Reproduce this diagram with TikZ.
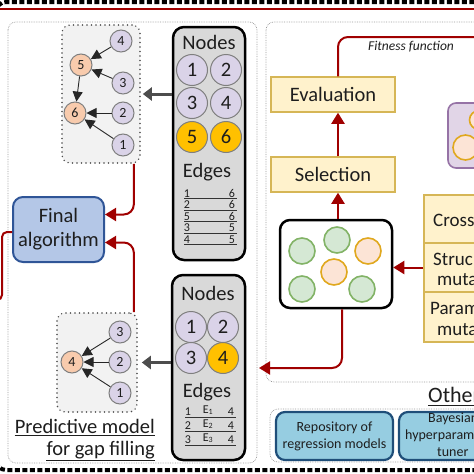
\documentclass[tikz,border=0pt]{standalone}
\usepackage{fontspec}
\setmainfont{Carlito}
\usetikzlibrary{arrows.meta,calc}
\definecolor{txt}{HTML}{1E1E1E}
\definecolor{dred}{HTML}{A00000}
\definecolor{lav}{HTML}{DAD3E8}
\definecolor{cborder}{HTML}{7F7F7F}
\definecolor{yel}{HTML}{FFC000}
\definecolor{peach}{HTML}{F8CBAD}
\definecolor{gpfill}{HTML}{F2F2F2}
\definecolor{nbfill}{HTML}{D9D9D9}
\definecolor{fafill}{HTML}{B4C7E7}
\definecolor{faborder}{HTML}{2F5597}
\definecolor{evfill}{HTML}{FFF2CC}
\definecolor{evborder}{HTML}{D6B656}
\definecolor{grfill}{HTML}{D5E8D4}
\definecolor{grborder}{HTML}{82B366}
\definecolor{orfill}{HTML}{FCE4D6}
\definecolor{orborder}{HTML}{E0A81E}
\definecolor{purfill}{HTML}{E1D5E7}
\definecolor{purborder}{HTML}{9673A6}
\definecolor{bluefill}{HTML}{96CDE1}
\definecolor{blueborder}{HTML}{1F4E79}
\definecolor{garrow}{HTML}{4D4D4D}
\newcommand\fbig{\fontsize{20.5pt}{24pt}\selectfont}
\newcommand\fcross{\fontsize{19pt}{21pt}\selectfont}
\newcommand\fsmall{\fontsize{14pt}{17pt}\selectfont}
\newcommand\flist{\fontsize{12pt}{13pt}\selectfont}
\begin{document}
\begin{tikzpicture}[x=1pt,y=-1pt,
  every node/.style={text=txt},
  panel/.style={draw=gray!80, line width=0.7pt, densely dotted, rounded corners=8pt},
  gpanel/.style={rectangle, rounded corners=8pt, fill=gpfill, draw=black!70, line width=1.6pt, dash pattern=on 0pt off 4.5pt, line cap=round},
  nbox/.style={rectangle, rounded corners=11pt, fill=nbfill, draw=black, line width=2.5pt},
  bigc/.style={circle, minimum size=31pt, inner sep=0pt, fill=lav, draw=cborder, line width=1pt, font=\fbig},
  bigy/.style={bigc, fill=yel},
  smc/.style={circle, minimum size=22pt, inner sep=0pt, fill=lav, draw=cborder, line width=1pt, font=\fsmall},
  smo/.style={smc, fill=peach},
  gedge/.style={-{Triangle[length=10pt,width=10pt]}, line width=0.9pt, black!85},
  garr/.style={-{Triangle[length=9pt,width=13pt]}, line width=3pt, garrow},
  redline/.style={dred, line width=2pt},
  redarr/.style={redline, -{Triangle[length=11pt,width=13pt]}},
  evbox/.style={rectangle, fill=evfill, draw=evborder, line width=1.5pt, font=\fbig},
  cutbox/.style={rectangle, fill=evfill, draw=evborder, line width=1.5pt},
  cuttext/.style={font=\fcross, inner sep=0pt, anchor=base west},
  pgr/.style={circle, minimum size=26pt, inner sep=0pt, fill=grfill, draw=grborder, line width=1.6pt},
  por/.style={pgr, fill=orfill, draw=orborder},
  bluebox/.style={rectangle, rounded corners=9pt, fill=bluefill, draw=blueborder, line width=2.2pt, font=\fsmall, align=center},
  lbl/.style={font=\fbig, inner sep=0pt},
  lst/.style={font=\flist, inner sep=0pt, anchor=base},
  btext/.style={font=\fsmall, inner sep=0pt, anchor=base west}
]
\useasboundingbox (0,0) rectangle (474,474);

% outer frame
\draw[black, line width=4pt, dash pattern=on 5pt off 2.5pt, rounded corners=10pt] (-4,2) rectangle (495,470);
\draw[redline] (-5,9) -- (480,9);

% panels
\draw[panel] (8,22) rectangle (257,463);
\draw[panel] (266,22) rectangle (495,382);
\draw[panel] (270,409) rectangle (495,462);

% ---------- left panel ----------
\node[gpanel, minimum width=78pt, minimum height=138pt] (gp1) at (101,94) {};
\node[smc] (t4) at (121,41) {4};
\node[smo] (t5) at (81,65) {5};
\node[smc] (t3) at (123,83) {3};
\node[smo] (t6) at (75,113) {6};
\node[smc] (t2) at (123,113) {2};
\node[smc] (t1) at (123,145) {1};
\draw[gedge] (t4) -- (t5);
\draw[gedge] (t3) -- (t5);
\draw[gedge] (t5) -- (t6);
\draw[gedge] (t2) -- (t6);
\draw[gedge] (t1) -- (t6);

\node[nbox, minimum width=72pt, minimum height=233pt] (nb1) at (209,143.5) {};
\node[lbl] (nl1) at (209,42) {Nodes};
\node[bigc] (a1) at (192,70) {1};
\node[bigc] (a2) at (226,70) {2};
\node[bigc] (a3) at (192,103) {3};
\node[bigc] (a4) at (226,103) {4};
\node[bigy] (a5) at (192,137) {5};
\node[bigy] (a6) at (226,137) {6};
\node[lbl] (el1) at (207,172) {Edges};
\foreach \p/\q/\yy [count=\i] in {1/6/197, 2/6/208.5, 5/6/220, 3/5/231.5, 4/5/243} {
  \node[lst] (tl\i) at (187,\yy) {\p};
  \node[lst] (tr\i) at (232,\yy) {\q};
  \draw[black!80, line width=0.8pt] (184,\yy+1.5) -- (237,\yy+1.5);
}

\node[rectangle, rounded corners=10pt, fill=fafill, draw=faborder, line width=2pt,
  minimum width=91pt, minimum height=65pt, align=center, font=\fbig] (fa) at (58.5,229.5) {Final\\algorithm};

\node[gpanel, minimum width=80pt, minimum height=99pt] (gp2) at (97,362.5) {};
\node[smc] (b3) at (120,332) {3};
\node[smc] (b2) at (120,362) {2};
\node[smc] (b1) at (120,393) {1};
\node[smo] (b4) at (72,362) {4};
\draw[gedge] (b3) -- (b4);
\draw[gedge] (b2) -- (b4);
\draw[gedge] (b1) -- (b4);

\node[nbox, minimum width=73pt, minimum height=185pt] (nb2) at (208.5,367.5) {};
\node[lbl] (nl2) at (208,293) {Nodes};
\node[bigc] (c1) at (191,327) {1};
\node[bigc] (c2) at (223,327) {2};
\node[bigc] (c3) at (191,358) {3};
\node[bigy] (c4) at (223,358) {4};
\node[lbl] (el2) at (207,392) {Edges};
\foreach \p/\yy [count=\i] in {1/415, 2/429, 3/443} {
  \node[lst] (bl\i) at (188,\yy) {\p};
  \node[lst] (bm\i) at (208,\yy-2) {E\textsubscript{\p}};
  \node[lst] (br\i) at (231,\yy) {4};
  \draw[black!80, line width=0.8pt] (185,\yy+2) -- (236,\yy+2);
}

\node[lbl, anchor=base east] (pm1) at (155,433) {Predictive model};
\node[lbl, anchor=base east] (pm2) at (155,455) {for gap filling};
\draw[txt, line width=1pt] ([yshift=-2.5pt]pm1.base west) -- ([yshift=-2.5pt]pm1.base east);
\draw[txt, line width=1pt] ([yshift=-5pt]pm2.base west) -- ([yshift=-5pt]pm2.base east);

% arrows left panel
\draw[garr] (gp1.east -| nb1.west) -- ([xshift=2pt]gp1.east);
\draw[garr] (gp2.east -| nb2.west) -- ([xshift=4pt]gp2.east);
\draw[redarr, rounded corners=10pt] ([xshift=-7pt]gp1.south east) |- ([yshift=15pt]fa.east);
\draw[redarr, rounded corners=10pt] ([xshift=-4pt]gp2.north east) |- ([yshift=-13pt]fa.east);
\coordinate (leftend) at (-10,300);
\draw[redline, rounded corners=5pt] ([yshift=-2.5pt]fa.west) -| (2,300) -- (leftend);

% ---------- right panel ----------
\node[evbox, minimum width=124pt, minimum height=35pt] (eval) at (333,94.5) {Evaluation};
\node[evbox, minimum width=124pt, minimum height=35pt] (sel) at (333,174.5) {Selection};
\node[rectangle, rounded corners=10pt, fill=white, draw=black, line width=2.5pt,
  minimum width=112pt, minimum height=88pt] (pop) at (336,264) {};
\node[pgr] (p1) at (302,251) {};
\node[pgr] (p2) at (337,240) {};
\node[por] (p3) at (368,251) {};
\node[por] (p4) at (334,272) {};
\node[pgr] (p5) at (302,289) {};
\node[pgr] (p6) at (362,289) {};

\node[cutbox, minimum width=94pt, minimum height=48pt] (cross) at (471,219) {};
\node[cutbox, minimum width=94pt, minimum height=49pt] (strmut) at (471,267.5) {};
\node[cutbox, minimum width=94pt, minimum height=50pt] (parmut) at (471,317) {};
\node[cuttext] (crosst) at (433,226) {Cross};
\node[cuttext] (strt1) at (433,265) {Struc};
\node[cuttext] (strt2) at (437,285) {muta};
\node[cuttext] (part1) at (430,314) {Param};
\node[cuttext] (part2) at (437,335) {muta};

\node[rectangle, rounded corners=8pt, fill=purfill, draw=purborder, line width=1.6pt,
  minimum width=72pt, minimum height=65pt] (pur) at (484,135.5) {};
\node[por, minimum size=19pt] (q1) at (479,120) {};
\node[por, minimum size=25pt] (q2) at (465.5,147.5) {};

\draw[redarr] ([xshift=5pt]sel.north) -- ([xshift=5pt]eval.south);
\draw[redarr] ([xshift=2pt]pop.north) -- ([xshift=5pt]sel.south);
\draw[redarr] (strmut.west) -- (strmut.west -| pop.east);
\coordinate (popend) at (259,368);
\draw[redarr, rounded corners=10pt] ([xshift=6pt]pop.south) |- (popend);
\coordinate (fitend) at (495,37);
\draw[redline, rounded corners=10pt] ([xshift=5pt]eval.north) |- (fitend);
\node[font=\fontsize{13.5pt}{15pt}\selectfont\itshape, inner sep=0pt] (fit) at (411,47) {Fitness function};
\coordinate (pmtail) at (492,378);
\draw[redarr] (pmtail) -- ([xshift=8pt]parmut.south);

% ---------- bottom ----------
\node[lbl, font=\fontsize{22pt}{26pt}\selectfont, anchor=base west] (oth) at (428,402) {Other};
\draw[txt, line width=1pt] ([yshift=-3pt]oth.base west) -- ([yshift=-3pt]oth.base east);
\node[bluebox, minimum width=117pt, minimum height=48pt] (repo) at (334.5,436) {Repository of\\regression models};
\node[bluebox, minimum width=106pt, minimum height=48pt] (bayes) at (452,436) {};
\node[btext] (bay1) at (428,422) {Bayesian};
\node[btext] (bay2) at (405,439) {hyperparam};
\node[btext] (bay3) at (437,456) {tuner};
\end{tikzpicture}
\end{document}
